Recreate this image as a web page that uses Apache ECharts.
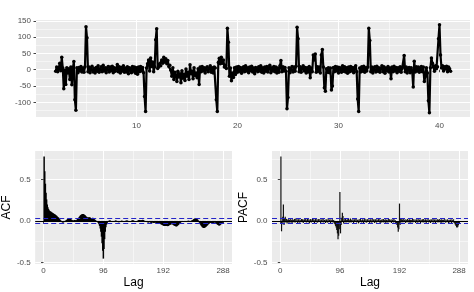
<!DOCTYPE html>
<html>
<head>
<meta charset="utf-8">
<script src="https://cdn.jsdelivr.net/npm/echarts@6/dist/echarts.min.js"></script>
<style>
html, body { margin: 0; padding: 0; background: #fff; }
#main { width: 474px; height: 292px; }
</style>
</head>
<body>
<div id="main"></div>
<script>
// time series, one value every 0.1 day from day 2
var tsStart = 2;
var tsStep = 0.1;
var tsValues = [
    -5, 8, -6, 4, 20, -3, 38, 5, -58, -2,
    -45, 6, -10, 3, -30, 8, -46, 5, 25, -92,
    -124, 6, -9, 7, -4, 10, -7, 5, -8, 9,
    132, 98, -6, 8, -9, 5, 11, -7, 4, -10,
    7, -5, 12, -8, 3, 9, -6, 14, -4, 6,
    -9, 5, 10, -7, 8, -3, 11, -9, 6, -5,
    4, 16, -6, 9, -10, 7, -4, 12, -8, 5,
    -7, 9, -12, 6, 3, -9, 10, -5, 8, -11,
    6, -14, 8, -6, 10, -4, 7, -9, -82, -128,
    5, 18, 30, -4, 36, 10, 24, -6, 9, 92,
    126, 4, 8, 18, 12, 30, 20, 38, 24, 34,
    18, 28, 10, 14, -2, -20, 6, -30, -8, -18,
    -36, -5, -22, -12, -40, -3, -26, -14, -33, 2,
    -20, -8, -30, 15, -12, -4, -28, 6, -18, -10,
    -25, 3, -45, 8, -6, 10, -4, 6, -10, 5,
    9, -6, 4, 12, -8, 6, -10, 8, 5, -92,
    -128, 22, 35, 18, 38, 20, 30, 8, 14, 4,
    127, 84, -20, 5, -34, -10, -24, 6, -15, 8,
    -8, 10, -5, 7, -11, 4, 9, -6, 12, -4,
    6, -9, 8, -3, 11, -7, 5, -12, 7, 3,
    -6, 9, -4, 12, -8, 6, -10, 8, -5, 10,
    -7, 5, 14, -9, 6, -4, 10, -6, 8, -10,
    5, -8, 12, 28, -6, 9, -4, 7, -5, -120,
    -85, 6, -9, 4, 10, -7, 8, -5, 11, 130,
    95, -6, 9, -8, 5, 12, -4, 7, -10, 6,
    -7, 10, -25, 5, -6, 45, 30, 48, -8, 9,
    -5, 8, -10, 45, 62, 8, -55, -66, 3, -8,
    6, -9, 5, -62, -50, 7, -6, 10, -4, 8,
    -10, 7, 4, -8, 12, -5, 9, -7, 6, -11,
    8, -6, 10, -4, 7, -9, 5, 12, -6, -90,
    -128, 5, -7, 9, -5, 11, -8, 6, -4, 8,
    127, 90, -6, 8, -10, 5, 9, -7, 11, -5,
    6, -8, 4, 12, -6, 9, -11, 5, -4, 10,
    -7, 5, -28, 8, -6, 11, -4, 7, -9, 6,
    -5, 9, -8, 4, 10, 44, -6, 8, -10, 5,
    7, -9, 6, -5, -53, 26, -7, 9, -4, 8,
    -8, 5, 10, -6, 8, -36, -20, 6, -10, -95,
    -132, 6, 36, 20, 8, -5, 12, 3, 9, 95,
    138, 45, 5, 12, -4, 9, 2, 11, -6, 8,
    3, -5
];

// ACF, lags 1..288
var acfValues = [
    0.78, 0.60, 0.45, 0.34, 0.26, 0.20, 0.165, 0.145, 0.13, 0.12, 0.115, 0.11,
    0.105, 0.10, 0.095, 0.09, 0.085, 0.08, 0.075, 0.07, 0.062, 0.055, 0.047, 0.04,
    0.03, 0.02, 0.01, 0.002, -0.008, -0.015, -0.02, -0.018, -0.012, -0.005, 0.002, 0.006,
    0.012, 0.018, 0.024, 0.03, 0.034, 0.03, 0.025, 0.02, 0.014, 0.009, 0.005, 0.004,
    0.008, 0.012, 0.009, 0.006, 0.01, 0.018, 0.026, 0.035, 0.045, 0.055, 0.064, 0.072,
    0.078, 0.082, 0.085, 0.083, 0.078, 0.072, 0.066, 0.058, 0.05, 0.044, 0.04, 0.042,
    0.045, 0.043, 0.04, 0.037, 0.034, 0.036, 0.038, 0.033, 0.026, 0.018, 0.01, 0.004,
    -0.002, -0.008, -0.015, -0.025, -0.04, -0.06, -0.09, -0.13, -0.19, -0.27, -0.36, -0.455,
    -0.34, -0.22, -0.13, -0.075, -0.045, -0.025, -0.012, -0.005, 0.002, 0.006, 0.004, 0.0,
    -0.004, -0.008, -0.012, -0.01, -0.006, -0.002, 0.003, 0.005, 0.002, -0.004, -0.01, -0.014,
    -0.016, -0.012, -0.006, 0.0, 0.004, 0.002, -0.003, -0.008, -0.011, -0.009, -0.004, 0.001,
    0.004, 0.006, 0.003, -0.002, -0.006, -0.009, -0.007, -0.003, 0.002, 0.005, 0.008, 0.006,
    0.003, -0.001, -0.005, -0.008, -0.006, -0.002, 0.003, 0.007, 0.01, 0.012, 0.009, 0.005,
    0.008, 0.012, 0.014, 0.011, 0.006, 0.002, -0.003, -0.007, -0.01, -0.013, -0.016, -0.018,
    -0.015, -0.012, -0.016, -0.02, -0.023, -0.02, -0.017, -0.021, -0.025, -0.022, -0.018, -0.02,
    -0.024, -0.027, -0.025, -0.022, -0.026, -0.03, -0.034, -0.038, -0.042, -0.046, -0.05, -0.054,
    -0.057, -0.06, -0.062, -0.06, -0.058, -0.061, -0.063, -0.06, -0.055, -0.05, -0.046, -0.042,
    -0.04, -0.038, -0.042, -0.047, -0.052, -0.057, -0.061, -0.064, -0.066, -0.063, -0.058, -0.05,
    -0.042, -0.034, -0.026, -0.019, -0.013, -0.009, -0.006, -0.004, -0.006, -0.009, -0.011, -0.008,
    -0.005, -0.002, 0.001, 0.003, 0.001, -0.002, -0.004, -0.002, 0.002, 0.006, 0.011, 0.016,
    0.021, 0.026, 0.03, 0.032, 0.03, 0.026, 0.018, 0.008, -0.004, -0.018, -0.032, -0.046,
    -0.058, -0.068, -0.076, -0.082, -0.085, -0.083, -0.079, -0.074, -0.068, -0.06, -0.051, -0.042,
    -0.035, -0.03, -0.026, -0.024, -0.023, -0.025, -0.027, -0.026, -0.022, -0.018, -0.017, -0.021,
    -0.028, -0.036, -0.044, -0.05, -0.054, -0.055, -0.052, -0.046, -0.038, -0.03, -0.022, -0.015
];

// PACF, lags 1..288
var pacfValues = [
    0.78, -0.125, -0.04, 0.05, 0.2, -0.05, 0.03, 0.05, -0.02, 0.025, -0.03, 0.015,
    0.02, -0.025, 0.01, 0.03, -0.02, 0.015, -0.03, 0.02, 0.01, -0.015, 0.025, -0.02,
    0.03, -0.01, 0.02, -0.025, 0.015, 0.03, -0.02, 0.01, -0.015, 0.025, -0.01, 0.02,
    -0.025, 0.015, 0.02, -0.01, 0.03, -0.02, 0.01, 0.025, -0.015, 0.02, -0.03, 0.01,
    0.025, -0.02, 0.015, 0.03, -0.01, 0.02, -0.025, 0.01, 0.03, -0.015, 0.02, -0.02,
    0.015, 0.025, -0.01, 0.02, -0.03, 0.01, 0.02, -0.015, 0.025, -0.02, 0.01, 0.015,
    -0.025, 0.02, 0.01, -0.02, 0.03, -0.015, 0.01, 0.02, -0.025, 0.015, -0.01, 0.02,
    -0.02, 0.01, -0.03, -0.04, -0.06, -0.08, -0.11, -0.15, -0.22, -0.18, -0.1, 0.35,
    -0.15, -0.05, 0.04, 0.1, 0.06, -0.03, 0.02, -0.015, 0.025, -0.02, 0.01, 0.02,
    -0.015, 0.025, -0.02, 0.01, 0.03, -0.02, 0.015, -0.01, 0.02, -0.025, 0.015, 0.02,
    -0.01, 0.025, -0.02, 0.015, 0.01, -0.03, 0.02, -0.015, 0.025, 0.01, -0.02, 0.015,
    0.02, -0.025, 0.01, 0.03, -0.015, 0.02, -0.02, 0.01, 0.025, -0.01, 0.015, -0.025,
    0.02, 0.01, -0.02, 0.03, -0.015, 0.015, 0.02, -0.025, 0.01, 0.025, -0.02, 0.015,
    -0.01, 0.02, 0.035, -0.02, 0.015, -0.025, 0.01, 0.02, -0.015, 0.025, -0.02, 0.01,
    0.02, -0.03, 0.015, 0.01, -0.02, 0.025, -0.015, 0.02, -0.01, 0.015, -0.025, 0.02,
    0.01, -0.02, 0.025, -0.015, 0.01, -0.03, -0.04, -0.05, -0.08, -0.13, -0.1, 0.21,
    -0.05, 0.03, 0.02, -0.02, 0.015, 0.025, -0.015, 0.01, 0.02, -0.025, 0.015, -0.01,
    0.025, -0.02, 0.01, 0.02, -0.03, 0.015, 0.01, -0.02, 0.025, -0.015, 0.02, -0.01,
    0.015, -0.025, 0.02, 0.01, -0.02, 0.03, -0.015, 0.01, 0.02, -0.025, 0.015, -0.01,
    0.02, -0.02, 0.025, -0.015, 0.01, 0.02, -0.03, 0.015, -0.01, 0.025, -0.02, 0.01,
    0.015, -0.025, 0.02, 0.01, -0.015, 0.025, -0.02, 0.01, 0.02, -0.03, 0.015, -0.01,
    0.02, -0.02, 0.01, 0.025, -0.015, 0.015, -0.025, 0.02, 0.01, -0.02, 0.015, -0.01,
    0.025, -0.02, 0.01, -0.015, 0.02, 0.01, -0.025, 0.015, -0.02, 0.01, 0.02, -0.03,
    0.015, -0.01, 0.02, -0.025, -0.03, -0.045, -0.06, -0.075, -0.08, -0.07, -0.05, -0.03
];

var ciBound = 0.033;
var tsXTicks = [10, 20, 30, 40];
var tsXMinor = [5, 15, 25, 35];
var tsYTicks = [-100, -50, 0, 50, 100, 150];
var tsYMinor = [-125, -75, -25, 25, 75, 125];
var lagTicks = [0, 96, 192, 288];
var lagMinor = [48, 144, 240];
var corrTicks = [-0.5, 0, 0.5];
var corrMinor = [-0.25, 0.25, 0.75];

var tsData = tsValues.map(function (v, i) {
    return [tsStart + i * tsStep, v];
});
var acfData = acfValues.map(function (v, i) { return [i + 1, v]; });
var pacfData = pacfValues.map(function (v, i) { return [i + 1, v]; });

var font = 'Liberation Sans, Arial, sans-serif';

function mainAxis(gridIndex, min, max, ticks, fmt, margin, name, nameGap) {
    return {
        type: 'value', gridIndex: gridIndex, min: min, max: max,
        axisLine: { show: false },
        axisTick: { show: true, customValues: ticks, length: 2.5, lineStyle: { color: '#444', width: 1 } },
        axisLabel: {
            customValues: ticks, color: '#4d4d4d', fontSize: 8, fontFamily: font,
            margin: margin, formatter: fmt
        },
        splitLine: { show: true, lineStyle: { color: '#fff', width: 1 } },
        name: name || '', nameLocation: 'middle', nameGap: nameGap || 0,
        nameTextStyle: { color: '#000', fontSize: 12, fontFamily: font }
    };
}
function minorAxis(gridIndex, min, max, ticks) {
    return {
        type: 'value', gridIndex: gridIndex, min: min, max: max,
        axisLine: { show: false },
        axisTick: { show: false, customValues: ticks },
        axisLabel: { show: false, customValues: ticks },
        splitLine: { show: true, lineStyle: { color: '#fff', width: 0.5 } }
    };
}
function oneDec(v) { return v.toFixed(1); }
function plain(v) { return String(v); }

// zero line plus the dashed confidence bounds
function ciLines() {
    var dash = { color: '#2424c8', type: [5, 3], width: 1.2 };
    return {
        silent: true,
        symbol: ['none', 'none'],
        label: { show: false },
        data: [
            { yAxis: 0, lineStyle: { color: '#000', type: 'solid', width: 1 } },
            { yAxis: ciBound, lineStyle: dash },
            { yAxis: -ciBound, lineStyle: dash }
        ]
    };
}

var chartDom = document.getElementById('main');
var myChart = echarts.init(chartDom);
var option;

option = {
    animation: false,
    grid: [
        { left: 36, top: 20, width: 434, height: 97, show: true, backgroundColor: '#ebebeb', borderWidth: 0 },
        { left: 34, top: 151, width: 198, height: 113, show: true, backgroundColor: '#ebebeb', borderWidth: 0 },
        { left: 272, top: 151, width: 196, height: 113, show: true, backgroundColor: '#ebebeb', borderWidth: 0 }
    ],
    xAxis: [
        mainAxis(0, 0.05, 43.02, tsXTicks, plain, 5),
        minorAxis(0, 0.05, 43.02, tsXMinor),
        mainAxis(1, -13.35, 302.35, lagTicks, plain, 3, 'Lag', 13),
        minorAxis(1, -13.35, 302.35, lagMinor),
        mainAxis(2, -13.35, 302.35, lagTicks, plain, 3, 'Lag', 13),
        minorAxis(2, -13.35, 302.35, lagMinor)
    ],
    yAxis: [
        mainAxis(0, -145, 152.5, tsYTicks, plain, 5),
        minorAxis(0, -145, 152.5, tsYMinor),
        mainAxis(1, -0.52, 0.845, corrTicks, oneDec, 4.5, 'ACF', 15),
        minorAxis(1, -0.52, 0.845, corrMinor),
        mainAxis(2, -0.52, 0.845, corrTicks, oneDec, 4.5, 'PACF', 15),
        minorAxis(2, -0.52, 0.845, corrMinor)
    ],
    series: [
        {
            type: 'line', xAxisIndex: 0, yAxisIndex: 0, data: tsData,
            symbol: 'circle', symbolSize: 3.5, showSymbol: true,
            lineStyle: { color: '#000', width: 2.2 }, itemStyle: { color: '#000' }
        },
        {
            type: 'bar', xAxisIndex: 2, yAxisIndex: 2, data: acfData,
            barWidth: 1.5, itemStyle: { color: '#000' }, markLine: ciLines()
        },
        {
            type: 'bar', xAxisIndex: 4, yAxisIndex: 4, data: pacfData,
            barWidth: 1.2, itemStyle: { color: '#111' }, markLine: ciLines()
        }
    ]
};

option && myChart.setOption(option);
</script>
</body>
</html>
